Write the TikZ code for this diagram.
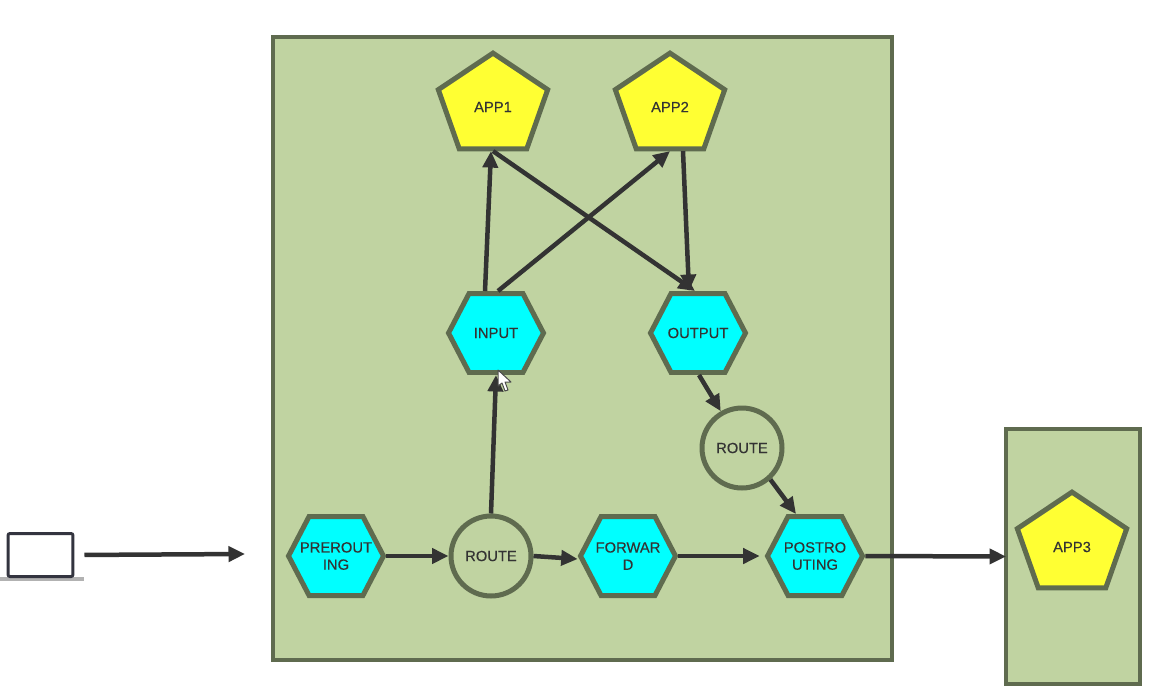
\documentclass[tikz,border=0pt]{standalone}
\usepackage{fontspec}
\setmainfont[FakeBold=0.35]{Liberation Sans}
\usetikzlibrary{arrows.meta, shapes.geometric, shapes.symbols}

\definecolor{boxgreen}{HTML}{C0D3A1}
\definecolor{edgegreen}{HTML}{5F6B4F}
\definecolor{hexcyan}{HTML}{00FFFF}
\definecolor{appyellow}{HTML}{FFFF33}
\definecolor{linkdark}{HTML}{333333}
\definecolor{laptopdark}{HTML}{33343F}

\tikzset{
  hostbox/.style={draw=edgegreen, fill=boxgreen, line width=0.09cm, rectangle, inner sep=0pt, outer sep=0pt},
  chainhex/.style={signal, signal to=east and west, signal pointer angle=125, draw=edgegreen, fill=hexcyan,
    line width=0.1cm, minimum width=1.9cm, minimum height=1.58cm, inner ysep=0pt, inner xsep=-0.4cm, align=center,
    text=linkdark, font=\fontsize{8.4}{9.8}\selectfont},
  routecirc/.style={circle, draw=edgegreen, fill=boxgreen, line width=0.1cm, minimum size=1.6cm, inner sep=0pt,
    text=linkdark, font=\fontsize{8.4}{9.8}\selectfont},
  apppenta/.style={regular polygon, regular polygon sides=5, draw=edgegreen, fill=appyellow, line width=0.1cm,
    minimum size=2.3cm, inner sep=0pt, transform shape, yscale=.92},
  applabel/.style={text=linkdark, font=\fontsize{8.4}{9.8}\selectfont, inner sep=0pt},
  link/.style={-{Triangle[length=0.33cm, width=0.3cm]}, draw=linkdark, line width=0.09cm}
}

\begin{document}
\begin{tikzpicture}[x=0.02cm, y=-0.02cm]
  \useasboundingbox (0,0) rectangle (1152,690);

  % hosts
  \node[hostbox, minimum width=12.38cm, minimum height=12.46cm] (hostmain) at (582.5,348.5) {};
  \node[hostbox, minimum width=2.68cm, minimum height=5.1cm] (hostapp) at (1073,556.5) {};

  % laptop
  \node[fill=black!30, minimum width=1.68cm, minimum height=0.08cm, inner sep=0pt, anchor=north] (laptopbase) at (42,577) {};
  \node[draw=laptopdark, fill=white, line width=0.06cm, rounded corners=0.04cm, minimum width=1.3cm, minimum height=0.86cm, inner sep=0pt] (laptop) at (40.5,555) {};

  % applications
  \node[apppenta] (app1) at (493,106) {};
  \node[applabel] (app1text) at (493,107) {APP1};
  \node[apppenta] (app2) at (670,106) {};
  \node[applabel] (app2text) at (670,107) {APP2};
  \node[apppenta] (app3) at (1072,545) {};
  \node[applabel] (app3text) at (1072,547) {APP3};

  % chains
  \node[chainhex] (input) at (496,333) {INPUT};
  \node[chainhex] (output) at (698,333) {OUTPUT};
  \node[chainhex] (prerouting) at (336,556) {PREROUT\\ING};
  \node[chainhex] (forward) at (628,556) {FORWAR\\D};
  \node[chainhex] (postrouting) at (815,556) {POSTRO\\UTING};

  % routing decisions
  \node[routecirc] (route1) at (491,556) {ROUTE};
  \node[routecirc] (route2) at (742,448) {ROUTE};

  % links
  \draw[link] ([xshift=-0.22cm]input.north) -- ([xshift=-0.04cm]app1.south);
  \draw[link] ([xshift=0.04cm]input.north) -- (app2.south);
  \draw[link] (app1.south) -- ([xshift=-0.06cm]output.north);
  \draw[link] ([xshift=0.26cm]app2.south) -- ([xshift=-0.18cm]output.north);
  \draw[link] ([xshift=0.02cm]output.south) -- (route2.120);
  \draw[link] (route2.-48) -- ([xshift=-0.38cm]postrouting.north);
  \draw[link] (route1.north) -- (input.south);
  \draw[link] (prerouting.east) -- (route1.west);
  \draw[link] (route1.east) -- ([yshift=-0.06cm]forward.west);
  \draw[link] (forward.east) -- ([xshift=-0.1cm]postrouting.west);
  \draw[link] (postrouting.east) -- (hostapp.west);
  \coordinate (hostentry) at (245,554);
  \draw[link, shorten <=0.2cm] (laptop.east) -- (hostentry);

  % pointer
  \draw[fill=white, draw=black!70, line width=0.02cm, line join=round] (498,370) -- (498,386) -- (502,383) -- (505,391) -- (508,390) -- (505,382) -- (511,382) -- cycle;
\end{tikzpicture}
\end{document}
